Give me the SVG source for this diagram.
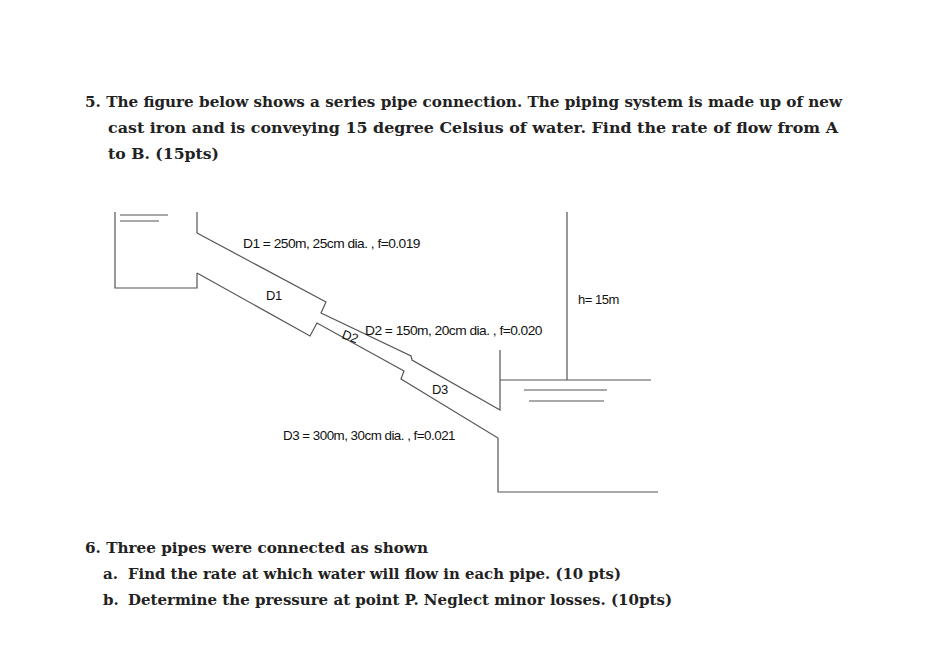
<svg xmlns="http://www.w3.org/2000/svg" width="931" height="664" viewBox="0 0 931 664">
<style>
.t{font-family:"DejaVu Serif","Liberation Serif",serif;font-weight:bold;font-size:15px;fill:#222}
.l{font-family:"Liberation Sans",Arial,sans-serif;font-size:13px;fill:#111;letter-spacing:-0.5px}
.s{fill:none;stroke:#555;stroke-width:1.2}
</style>
<rect width="931" height="664" fill="#fff"/>
<g id="text">
<text class="t" x="85" y="107" textLength="757" lengthAdjust="spacingAndGlyphs">5. The figure below shows a series pipe connection. The piping system is made up of new</text>
<text class="t" x="108" y="133" textLength="730" lengthAdjust="spacingAndGlyphs">cast iron and is conveying 15 degree Celsius of water. Find the rate of flow from A</text>
<text class="t" x="108" y="159" textLength="111" lengthAdjust="spacingAndGlyphs">to B. (15pts)</text>
<text class="t" x="85" y="553" textLength="343" lengthAdjust="spacingAndGlyphs">6. Three pipes were connected as shown</text>
<text class="t" x="103" y="579">a.</text>
<text class="t" x="128" y="579" textLength="493" lengthAdjust="spacingAndGlyphs">Find the rate at which water will flow in each pipe. (10 pts)</text>
<text class="t" x="103" y="605">b.</text>
<text class="t" x="128" y="605" textLength="544" lengthAdjust="spacingAndGlyphs">Determine the pressure at point P. Neglect minor losses. (10pts)</text>
</g>
<g id="tankA">
<path class="s" d="M115 212V288H197V273M197 212V233"/>
<path class="s" d="M120 215H168M120 221H159"/>
</g>
<g id="pipes">
<path class="s" d="M197 233L326 302L321 313L411 356L412 360L500 410V350"/>
<path class="s" d="M197 273L310 336L317 323L404 371L401 379L498 438V492H658"/>
</g>
<g id="tankB">
<path class="s" d="M500 380H651M567 212V380M524 390H607M529 401H604"/>
</g>
<g id="labels">
<text class="l" x="243" y="248" textLength="177" lengthAdjust="spacingAndGlyphs">D1 = 250m, 25cm dia. , f=0.019</text>
<text class="l" x="266" y="300">D1</text>
<text class="l" x="342" y="341" transform="rotate(20 350 337)">D2</text>
<text class="l" x="365" y="335" textLength="177" lengthAdjust="spacingAndGlyphs">D2 = 150m, 20cm dia. , f=0.020</text>
<text class="l" x="432" y="394">D3</text>
<text class="l" x="283" y="440" textLength="172" lengthAdjust="spacingAndGlyphs">D3 = 300m, 30cm dia. , f=0.021</text>
<text class="l" x="578" y="304">h= 15m</text>
</g>
</svg>
